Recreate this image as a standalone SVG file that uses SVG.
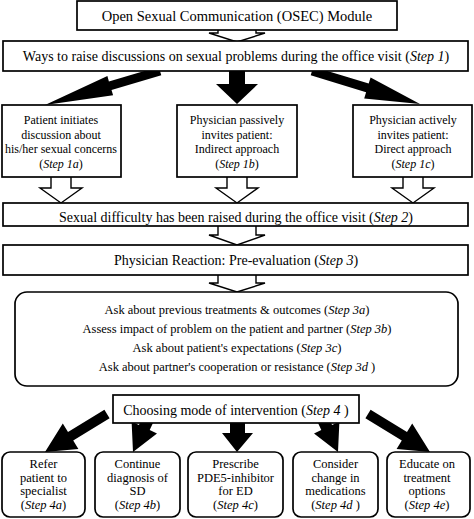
<svg xmlns="http://www.w3.org/2000/svg" width="474" height="519" viewBox="0 0 474 519">
<style>
.box{fill:#fff;stroke:#000;stroke-width:1.7}
.hol{fill:#fff;stroke:#000;stroke-width:1.4;stroke-linejoin:miter}
.blk{fill:#000;stroke:none}
text{font-family:"Liberation Serif","Times New Roman",serif;fill:#000;text-anchor:middle}
.t14{font-size:14px}
.t145{font-size:14.5px}
.t12{font-size:12px}
.t125{font-size:12.5px}
.i{font-style:italic}
</style>
<rect width="474" height="519" fill="#fff"/>
<g id="connectors">
  <polyline class="hol" points="218,29 218,33 209,33 237,42 265,33 256,33 256,29"/>
  <polygon class="blk" points="158.7,66.7 108.9,81.4 107.4,76.1 45,105 113.1,95.3 111.5,90 161.3,75.3"/>
  <polygon class="blk" points="229,70 229,84 216,84 237,104 258,84 245,84 245,70"/>
  <polygon class="blk" points="313.3,66.7 368.7,83.6 370.6,77.4 420,104 364.2,98.4 366.1,92.2 310.7,75.3"/>
  <polyline class="hol" points="51,176 51,188 40,188 61,203 82,188 71,188 71,176"/>
  <polyline class="hol" points="227,176 227,188 216,188 237,203 258,188 247,188 247,176"/>
  <polyline class="hol" points="403,176 403,188 392,188 413,203 434,188 423,188 423,176"/>
  <polyline class="hol" points="218,225 218,235 209,235 237,245 265,235 256,235 256,225"/>
  <polyline class="hol" points="218,274 218,283 209,283 237,292 265,283 256,283 256,274"/>
  <polygon class="blk" points="104.4,409.7 68,432 62.8,423.5 45,452 78.4,449.1 73.2,440.6 109.6,418.3"/>
  <polygon class="blk" points="152,396.9 138.9,425 131.6,421.6 133,452 157,433.4 149.7,430 162.8,401.9"/>
  <polygon class="blk" points="230,420 230,433 222,433 237,452 253,433 245,433 245,420"/>
  <polygon class="blk" points="319,396.9 332.1,425 339.4,421.6 338,452 314,433.4 321.3,430 308.2,401.9"/>
  <polygon class="blk" points="370.6,409.7 407,432 412.2,423.5 430,452 396.6,449.1 401.8,440.6 365.4,418.3"/>
</g>
<g id="osec">
  <rect class="box" x="77" y="1" width="320" height="29"/>
  <text class="t145" x="237" y="21">Open Sexual Communication (OSEC) Module</text>
</g>
<g id="step1">
  <rect class="box" x="3" y="41" width="465" height="30"/>
  <text class="t14" x="236" y="61">Ways to raise discussions on sexual problems during the office visit (<tspan class="i">Step 1</tspan>)</text>
</g>
<g id="step1a">
  <rect class="box" x="2" y="105" width="119" height="72"/>
  <text class="t12" x="61" y="124">Patient initiates</text>
  <text class="t12" x="61" y="138.5">discussion about</text>
  <text class="t12" x="61" y="153">his/her sexual concerns</text>
  <text class="t12" x="61" y="167.5">(<tspan class="i">Step 1a</tspan>)</text>
</g>
<g id="step1b">
  <rect class="box" x="177" y="105" width="120" height="72"/>
  <text class="t12" x="237" y="124">Physician passively</text>
  <text class="t12" x="237" y="138.5">invites patient:</text>
  <text class="t12" x="237" y="153">Indirect approach</text>
  <text class="t12" x="237" y="167.5">(<tspan class="i">Step 1b</tspan>)</text>
</g>
<g id="step1c">
  <rect class="box" x="353" y="105" width="119" height="72"/>
  <text class="t12" x="413" y="124">Physician actively</text>
  <text class="t12" x="413" y="138.5">invites patient:</text>
  <text class="t12" x="413" y="153">Direct approach</text>
  <text class="t12" x="413" y="167.5">(<tspan class="i">Step 1c</tspan>)</text>
</g>
<g id="step2">
  <rect class="box" x="3" y="203" width="465" height="23"/>
  <text class="t14" x="236" y="222">Sexual difficulty has been raised during the office visit (<tspan class="i">Step 2</tspan>)</text>
</g>
<g id="step3">
  <rect class="box" x="3" y="245" width="465" height="30"/>
  <text class="t14" x="236" y="265">Physician Reaction: Pre-evaluation (<tspan class="i">Step 3</tspan>)</text>
</g>
<g id="step3details">
  <rect class="box" x="15" y="292" width="443" height="94" rx="12" ry="12"/>
  <text class="t125" x="237" y="314">Ask about previous treatments &amp; outcomes (<tspan class="i">Step 3a</tspan>)</text>
  <text class="t125" x="237" y="333">Assess impact of problem on the patient and partner (<tspan class="i">Step 3b</tspan>)</text>
  <text class="t125" x="237" y="352">Ask about patient's expectations (<tspan class="i">Step 3c</tspan>)</text>
  <text class="t125" x="237" y="371">Ask about partner's cooperation or resistance (<tspan class="i">Step 3d</tspan> )</text>
</g>
<g id="step4">
  <rect class="box" x="113" y="395" width="246" height="28"/>
  <text class="t14" x="236" y="415">Choosing mode of intervention (<tspan class="i">Step 4</tspan> )</text>
</g>
<g id="step4a">
  <rect class="box" x="2" y="452" width="83" height="65" rx="8" ry="8"/>
  <text class="t125" x="43.5" y="468">Refer</text>
  <text class="t125" x="43.5" y="481.5">patient to</text>
  <text class="t125" x="43.5" y="495">specialist</text>
  <text class="t125" x="43.5" y="508.5">(<tspan class="i">Step 4a</tspan>)</text>
</g>
<g id="step4b">
  <rect class="box" x="95" y="452" width="85" height="65" rx="8" ry="8"/>
  <text class="t125" x="137.5" y="468">Continue</text>
  <text class="t125" x="137.5" y="481.5">diagnosis of</text>
  <text class="t125" x="137.5" y="495">SD</text>
  <text class="t125" x="137.5" y="508.5">(<tspan class="i">Step 4b</tspan>)</text>
</g>
<g id="step4c">
  <rect class="box" x="188" y="452" width="95" height="65" rx="8" ry="8"/>
  <text class="t125" x="235.5" y="468">Prescribe</text>
  <text class="t125" x="235.5" y="481.5">PDE5-inhibitor</text>
  <text class="t125" x="235.5" y="495">for ED</text>
  <text class="t125" x="235.5" y="508.5">(<tspan class="i">Step 4c</tspan>)</text>
</g>
<g id="step4d">
  <rect class="box" x="293" y="452" width="85" height="65" rx="8" ry="8"/>
  <text class="t125" x="335.5" y="468">Consider</text>
  <text class="t125" x="335.5" y="481.5">change in</text>
  <text class="t125" x="335.5" y="495">medications</text>
  <text class="t125" x="335.5" y="508.5">(<tspan class="i">Step 4d</tspan> )</text>
</g>
<g id="step4e">
  <rect class="box" x="387" y="452" width="83" height="65" rx="8" ry="8"/>
  <text class="t125" x="427" y="468">Educate on</text>
  <text class="t125" x="427" y="481.5">treatment</text>
  <text class="t125" x="427" y="495">options</text>
  <text class="t125" x="427" y="508.5">(<tspan class="i">Step 4e</tspan>)</text>
</g>
</svg>
